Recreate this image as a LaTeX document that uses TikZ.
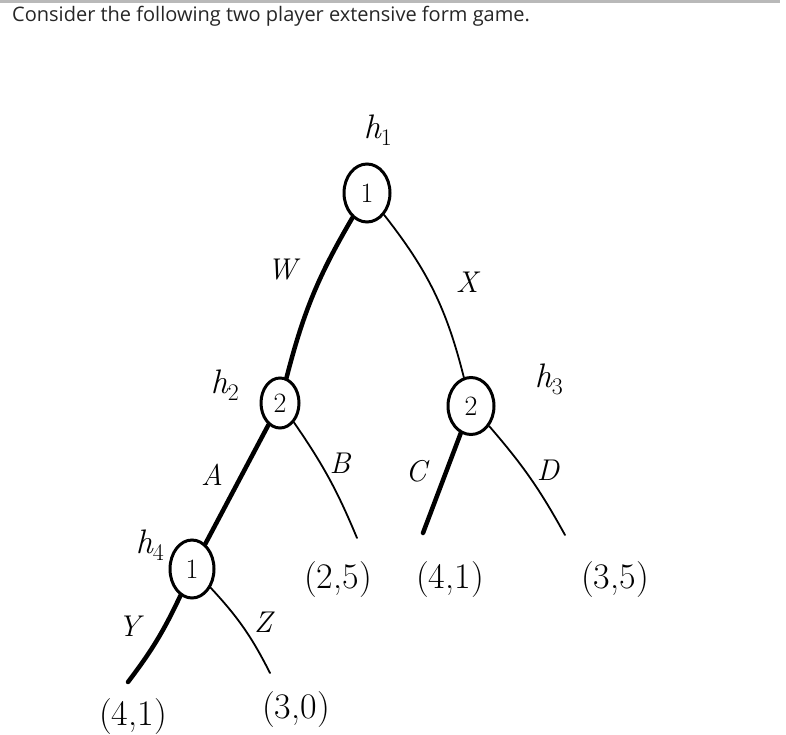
\documentclass[tikz,border=0pt]{standalone}
\usepackage{fontspec}
\setsansfont{Open Sans}
\usetikzlibrary{shapes.geometric}

\begin{document}
\begin{tikzpicture}[x=1pt, y=-1pt,
		decision/.style={draw, ellipse, line width=3pt, inner sep=0pt, font=\fontsize{28}{28}\selectfont},
		hname/.style={font=\itshape\fontsize{34}{34}\selectfont},
		move/.style={font=\itshape\fontsize{30}{30}\selectfont},
		payoff/.style={font=\fontsize{36}{36}\selectfont},
		picked/.style={line width=4.5pt, line cap=round},
		other/.style={line width=1.8pt, line cap=round}]

				\useasboundingbox (0,0) rectangle (786,735);
				\draw [gray!55, line width=3pt] (0,1.5) -- (780,1.5);

				\node [anchor=base west, inner sep=0pt, font=\sffamily\fontsize{20}{20}\selectfont, text=black!85] (title) at (12,22) {Consider the following two player extensive form game.};

				\node [decision, minimum width=46pt, minimum height=58pt] (h1) at (367, 193) {1};
				\node [decision, minimum width=38pt, minimum height=50pt] (h2) at (280, 403) {2};
				\node [decision, minimum width=46pt, minimum height=57pt] (h3) at (471, 406) {2};
				\node [decision, minimum width=44pt, minimum height=58pt] (h4) at (192, 569) {1};

				\node [hname] (n1) at (378, 130) {h\textsubscript{\upshape 1}};
				\node [hname] (n2) at (225, 385) {h\textsubscript{\upshape 2}};
				\node [hname] (n3) at (549, 379) {h\textsubscript{\upshape 3}};
				\node [hname] (n4) at (150, 545) {h\textsubscript{\upshape 4}};

				\node [move] (mW) at (282, 270) {W};
				\node [move] (mX) at (467, 282) {X};
				\node [move] (mA) at (212, 475) {A};
				\node [move] (mB) at (340, 463) {B};
				\node [move] (mC) at (416, 471) {C};
				\node [move] (mD) at (548, 470) {D};
				\node [move] (mY) at (129, 626) {Y};
				\node [move] (mZ) at (263, 622) {Z};

				\node [payoff] (p25) at (338, 580) {(2,5)};
				\node [payoff] (p41) at (450, 580) {(4,1)};
				\node [payoff] (p35) at (615, 580) {(3,5)};
				\node [payoff] (q41) at (133, 717) {(4,1)};
				\node [payoff] (q30) at (296, 710) {(3,0)};

				% loose ends just above the payoffs
				\coordinate (e25) at (357, 538);
				\coordinate (e41) at (423, 533);
				\coordinate (e35) at (565, 535);
				\coordinate (f41) at (128, 682);
				\coordinate (f30) at (270, 673);

				\draw [picked] (h1) to [bend right=8] (h2);
				\draw [other] (h1) to [bend left=12] (h3);
				\draw [picked] (h2) -- (h4);
				\draw [other] (h2) to [bend left=6] (e25);
				\draw [picked] (h3) -- (e41);
				\draw [other] (h3) to [bend left=6] (e35);
				\draw [picked] (h4) to [bend left=6] (f41);
				\draw [other] (h4) to [bend left=8] (f30);
\end{tikzpicture}
\end{document}
